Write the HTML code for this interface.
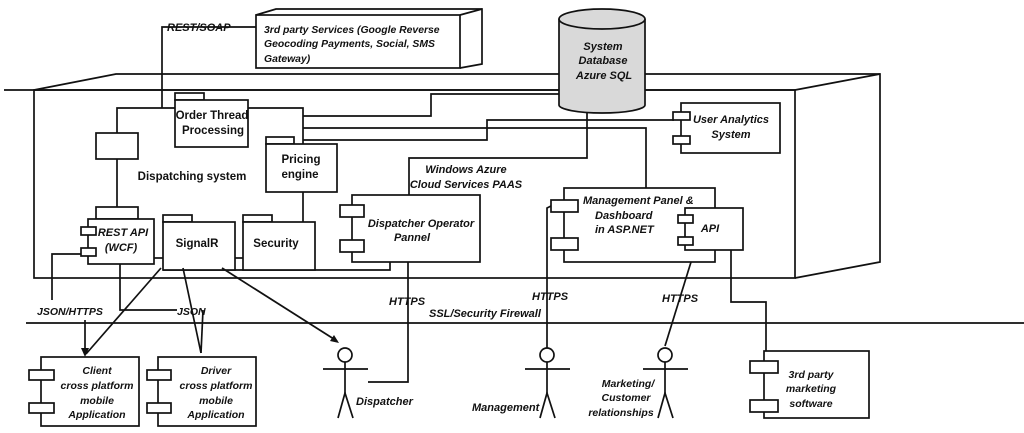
<!DOCTYPE html>
<html><head><meta charset="utf-8"><style>
html,body{margin:0;padding:0;background:#fff;}
svg{display:block;}
text{font-family:"Liberation Sans",sans-serif;fill:#111;}
.bi{font-weight:bold;font-style:italic;font-size:11px;}
.t{font-weight:bold;font-style:italic;font-size:10.4px;}
.b{font-weight:bold;font-size:11.5px;}
.n{font-style:italic;font-weight:bold;font-size:10.5px;}
</style></head><body>
<svg width="1024" height="433" viewBox="0 0 1024 433" xmlns="http://www.w3.org/2000/svg">
<g fill="none" stroke="#111" stroke-width="1.7">
<rect x="256" y="15" width="204" height="53" fill="#fff"/>
<polyline points="256,15 276,9 482,9 482,64 460,68"/>
<line x1="460" y1="15" x2="482" y2="9"/>
<polyline points="162,108 162,27 256,27"/>
<rect x="34" y="90" width="761" height="188"/>
<polyline points="34,90 116,74 559,74"/>
<polyline points="645,74 880,74 880,262 795,278"/>
<line x1="795" y1="90" x2="880" y2="74"/>
<line x1="4" y1="90" x2="34" y2="90"/>
<line x1="34" y1="90" x2="559" y2="90"/>
<line x1="645" y1="90" x2="795" y2="90"/>
<polyline points="117,133 117,108 175,108"/>
<polyline points="248,108 303,108 303,144"/>
<polyline points="303,116 431,116 431,94 559,94"/>
<polyline points="303,128 646,128 646,188"/>
<polyline points="303,140 487,140 487,120 674,120"/>
<polyline points="409,195 409,158 587,158 587,112"/>
<line x1="117" y1="159" x2="117" y2="207"/>
<line x1="303" y1="192" x2="303" y2="222"/>
<line x1="154" y1="258" x2="163" y2="258"/>
<line x1="235" y1="258" x2="243" y2="258"/>
<polyline points="163,270 390,270 390,262"/>
<rect x="175" y="93" width="29" height="7"/>
<rect x="175" y="100" width="73" height="47" fill="#fff"/>
<rect x="96" y="133" width="42" height="26" fill="#fff"/>
<rect x="266" y="137" width="28" height="7"/>
<rect x="266" y="144" width="71" height="48" fill="#fff"/>
<rect x="96" y="207" width="42" height="12"/>
<rect x="88" y="219" width="66" height="45" fill="#fff"/>
<rect x="81" y="227" width="15" height="8" fill="#fff"/>
<rect x="81" y="248" width="15" height="8" fill="#fff"/>
<rect x="163" y="215" width="29" height="7"/>
<rect x="163" y="222" width="72" height="48" fill="#fff"/>
<rect x="243" y="215" width="29" height="7"/>
<rect x="243" y="222" width="72" height="48" fill="#fff"/>
<rect x="352" y="195" width="128" height="67" fill="#fff"/>
<rect x="340" y="205" width="24" height="12" fill="#fff"/>
<rect x="340" y="240" width="24" height="12" fill="#fff"/>
<rect x="681" y="103" width="99" height="50" fill="#fff"/>
<rect x="673" y="112" width="17" height="8" fill="#fff"/>
<rect x="673" y="136" width="17" height="8" fill="#fff"/>
<rect x="564" y="188" width="151" height="74" fill="#fff"/>
<rect x="551" y="200" width="27" height="12" fill="#fff"/>
<rect x="551" y="238" width="27" height="12" fill="#fff"/>
<rect x="685" y="208" width="58" height="42" fill="#fff"/>
<rect x="678" y="215" width="15" height="8" fill="#fff"/>
<rect x="678" y="237" width="15" height="8" fill="#fff"/>
<path d="M559,19 L559,105 A43,8 0 0 0 645,105 L645,19" fill="#d9d9d9"/>
<ellipse cx="602" cy="19" rx="43" ry="10" fill="#d9d9d9"/>
<polyline points="81,254 52,254 52,300"/>
<line x1="85" y1="320" x2="85" y2="352"/>
<polyline points="120,264 120,310 177,310"/>
<line x1="203" y1="310" x2="201" y2="353"/>
<line x1="161" y1="268" x2="86" y2="354"/>
<line x1="183" y1="268" x2="201" y2="353"/>
<line x1="222" y1="268" x2="337" y2="341"/>
<polyline points="408,262 408,382 368,382"/>
<polyline points="551,206 547,208 547,348"/>
<line x1="691" y1="262" x2="665" y2="346"/>
<polyline points="731,250 731,302 766,302 766,351"/>
<line x1="26" y1="323" x2="1024" y2="323"/>
<rect x="41" y="357" width="98" height="69" fill="#fff"/>
<rect x="29" y="370" width="25" height="10" fill="#fff"/>
<rect x="29" y="403" width="25" height="10" fill="#fff"/>
<rect x="158" y="357" width="98" height="69" fill="#fff"/>
<rect x="147" y="370" width="24" height="10" fill="#fff"/>
<rect x="147" y="403" width="24" height="10" fill="#fff"/>
<rect x="764" y="351" width="105" height="67" fill="#fff"/>
<rect x="750" y="361" width="28" height="12" fill="#fff"/>
<rect x="750" y="400" width="28" height="12" fill="#fff"/>
<g>
<circle cx="345" cy="355" r="7"/><line x1="323" y1="369" x2="368" y2="369"/><line x1="345" y1="362" x2="345" y2="393"/><polyline points="338,418 345,393 353,418"/>
<circle cx="547" cy="355" r="7"/><line x1="525" y1="369" x2="570" y2="369"/><line x1="547" y1="362" x2="547" y2="393"/><polyline points="540,418 547,393 555,418"/>
<circle cx="665" cy="355" r="7"/><line x1="643" y1="369" x2="688" y2="369"/><line x1="665" y1="362" x2="665" y2="393"/><polyline points="658,418 665,393 673,418"/>
</g>
</g>
<polygon points="85,357 81,348 89,348" fill="#111"/>
<polygon points="339,343 330,341 334,335" fill="#111"/>
<text class="bi" x="167" y="31">REST/SOAP</text>
<text class="t" x="264" y="33">3rd party Services (Google Reverse</text>
<text class="t" x="264" y="47">Geocoding Payments, Social, SMS</text>
<text class="t" x="264" y="62">Gateway)</text>
<g class="b" text-anchor="middle">
<text x="212" y="119">Order Thread</text>
<text x="213" y="134">Processing</text>
<text x="192" y="180">Dispatching system</text>
<text x="301" y="163">Pricing</text>
<text x="300" y="178">engine</text>
<text x="197" y="247">SignalR</text>
<text x="276" y="247">Security</text>
</g>
<g class="bi" text-anchor="middle">
<text x="123" y="236">REST API</text>
<text x="121" y="251">(WCF)</text>
<text x="421" y="227">Dispatcher Operator</text>
<text x="412" y="241">Pannel</text>
<text x="466" y="173">Windows Azure</text>
<text x="466" y="188">Cloud Services PAAS</text>
<text x="603" y="50">System</text>
<text x="603" y="64">Database</text>
<text x="604" y="79">Azure SQL</text>
<text x="731" y="123">User Analytics</text>
<text x="731" y="138">System</text>
<text x="710" y="232">API</text>
</g>
<g class="bi">
<text x="583" y="204">Management Panel &amp;</text>
<text x="595" y="219">Dashboard</text>
<text x="595" y="233">in ASP.NET</text>
<text x="389" y="305">HTTPS</text>
<text x="532" y="300">HTTPS</text>
<text x="662" y="302">HTTPS</text>
<text x="429" y="317">SSL/Security Firewall</text>
<text x="356" y="405">Dispatcher</text>
<text x="472" y="411">Management</text>
</g>
<g class="n">
<text x="37" y="315">JSON/HTTPS</text>
<text x="177" y="315">JSON</text>
</g>
<g class="n" text-anchor="middle">
<text x="97" y="374">Client</text>
<text x="97" y="389">cross platform</text>
<text x="97" y="404">mobile</text>
<text x="97" y="418">Application</text>
<text x="216" y="374">Driver</text>
<text x="216" y="389">cross platform</text>
<text x="216" y="404">mobile</text>
<text x="216" y="418">Application</text>
<text x="811" y="378">3rd party</text>
<text x="811" y="392">marketing</text>
<text x="811" y="407">software</text>
<text x="628" y="387">Marketing/</text>
<text x="626" y="401">Customer</text>
<text x="621" y="416">relationships</text>
</g>
</svg>
</body></html>
